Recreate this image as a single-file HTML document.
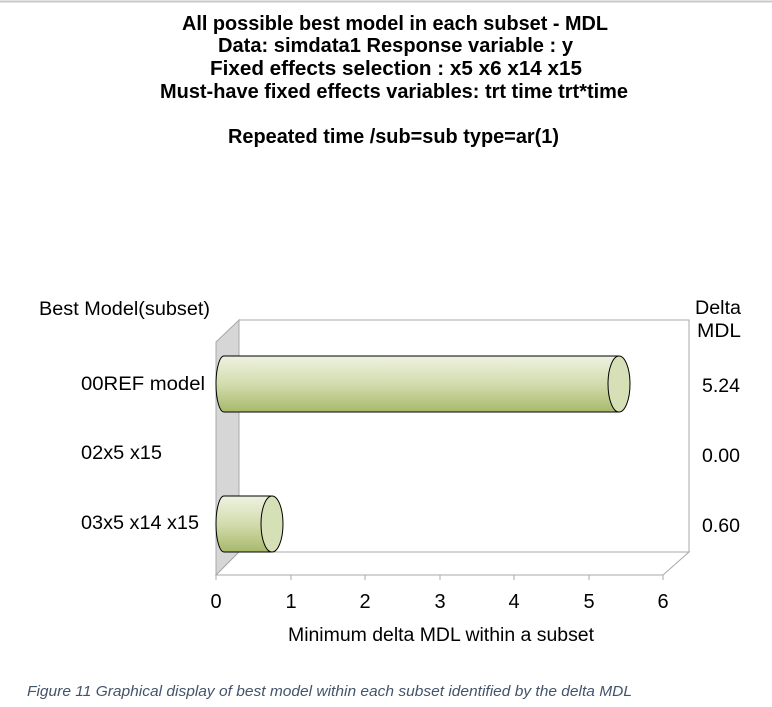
<!DOCTYPE html>
<html><head><style>
body{margin:0;background:#fff;}
svg{display:block;font-family:"Liberation Sans",Arial,sans-serif;}
</style></head><body>
<svg width="772" height="707" viewBox="0 0 772 707">
<defs>
<linearGradient id="g" x1="0" y1="0" x2="0" y2="1">
<stop offset="0" stop-color="#eef2e0"/>
<stop offset="0.5" stop-color="#d3dcae"/>
<stop offset="1" stop-color="#a7b96b"/>
</linearGradient>
</defs>
<rect x="0" y="0" width="772" height="707" fill="#fff"/>
<line x1="0" y1="1.5" x2="772" y2="1.5" stroke="#c8c8c8" stroke-width="2"/>
<g font-weight="bold" font-size="20" fill="#000" lengthAdjust="spacingAndGlyphs">
<text x="182" y="30" textLength="426" lengthAdjust="spacingAndGlyphs">All possible best model in each subset - MDL</text>
<text x="218" y="52" textLength="355" lengthAdjust="spacingAndGlyphs">Data: simdata1 Response variable : y</text>
<text x="210" y="75" textLength="372" lengthAdjust="spacingAndGlyphs">Fixed effects selection :  x5  x6 x14 x15</text>
<text x="160" y="98" textLength="468" lengthAdjust="spacingAndGlyphs">Must-have fixed effects variables: trt time trt*time</text>
<text x="228" y="143" textLength="331" lengthAdjust="spacingAndGlyphs">Repeated time /sub=sub type=ar(1)</text>
</g>
<polygon points="216,342 239,320 239,552 216,575" fill="#d6d6d6" stroke="#a8a8a8"/>
<rect x="239" y="320" width="450" height="232" fill="#fff" stroke="#a8a8a8"/>
<polygon points="216,575 239,552 689,552 663,575" fill="#fff" stroke="#a8a8a8"/>
<line x1="216" y1="342" x2="216" y2="580" stroke="#a8a8a8"/>
<g stroke="#a8a8a8">
<line x1="216" y1="575" x2="216" y2="580"/><line x1="291" y1="575" x2="291" y2="580"/>
<line x1="365" y1="575" x2="365" y2="580"/><line x1="440" y1="575" x2="440" y2="580"/>
<line x1="514" y1="575" x2="514" y2="580"/><line x1="589" y1="575" x2="589" y2="580"/>
<line x1="663" y1="575" x2="663" y2="580"/>
</g>
<path d="M224,356 L619,356 L619,412 L224,412 A8,28 0 0 1 224,356 Z" fill="url(#g)" stroke="#000" stroke-width="1"/>
<ellipse cx="619" cy="384" rx="11" ry="28" fill="#d6e0b6" stroke="#000"/>
<path d="M224,496 L272,496 L272,552 L224,552 A8,28 0 0 1 224,496 Z" fill="url(#g)" stroke="#000" stroke-width="1"/>
<ellipse cx="272" cy="524" rx="11" ry="28" fill="#d6e0b6" stroke="#000"/>
<g font-size="19" fill="#000">
<text x="39" y="315" textLength="171" lengthAdjust="spacingAndGlyphs">Best Model(subset)</text>
<text x="81" y="390" textLength="124" lengthAdjust="spacingAndGlyphs">00REF model</text>
<text x="81" y="459" textLength="81" lengthAdjust="spacingAndGlyphs">02x5 x15</text>
<text x="81" y="529" textLength="118" lengthAdjust="spacingAndGlyphs">03x5 x14 x15</text>
<text x="695" y="314" textLength="46" lengthAdjust="spacingAndGlyphs">Delta</text>
<text x="697" y="337" textLength="44" lengthAdjust="spacingAndGlyphs">MDL</text>
<text x="702" y="392" textLength="38" lengthAdjust="spacingAndGlyphs">5.24</text>
<text x="702" y="462" textLength="38" lengthAdjust="spacingAndGlyphs">0.00</text>
<text x="702" y="532" textLength="38" lengthAdjust="spacingAndGlyphs">0.60</text>
</g>
<g font-size="20" text-anchor="middle" fill="#000">
<text x="216" y="608">0</text><text x="291" y="608">1</text><text x="365" y="608">2</text>
<text x="440" y="608">3</text><text x="514" y="608">4</text><text x="589" y="608">5</text>
<text x="663" y="608">6</text>
</g>
<text x="288" y="641" font-size="19" textLength="306" lengthAdjust="spacingAndGlyphs">Minimum delta MDL within a subset</text>
<text x="27" y="696" font-size="15" font-style="italic" fill="#44546a" textLength="605" lengthAdjust="spacingAndGlyphs">Figure 11 Graphical display of best model within each subset identified by the delta MDL</text>
</svg>
</body></html>
